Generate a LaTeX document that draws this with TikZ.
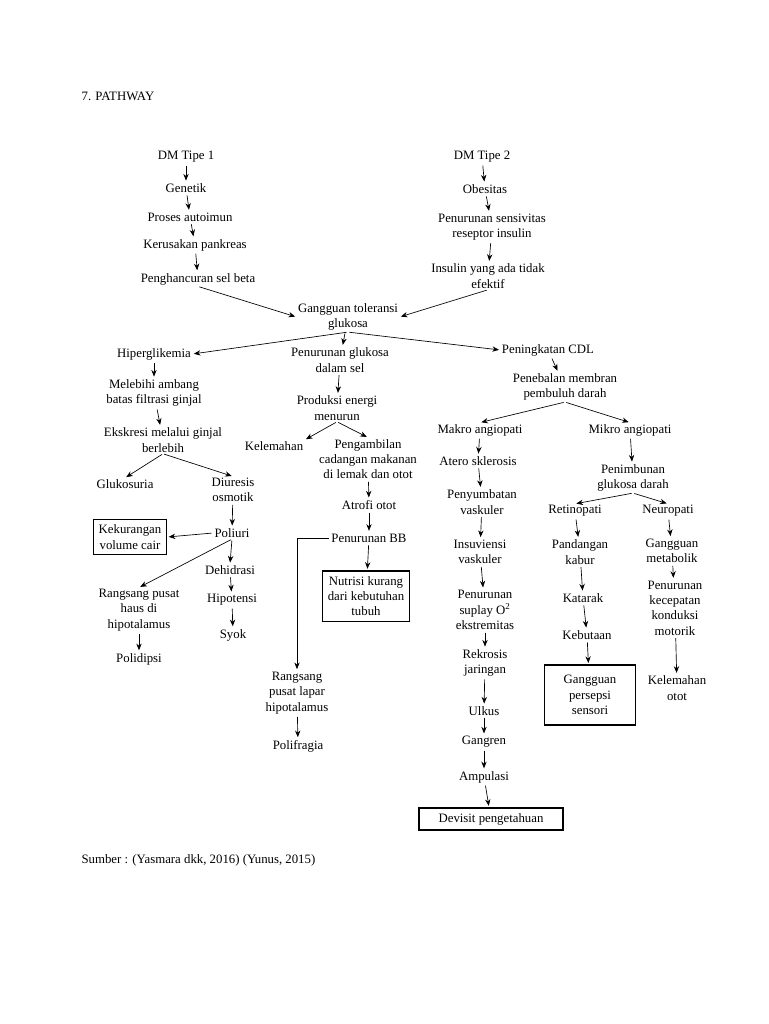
\documentclass[tikz,border=0pt]{standalone}
\usepackage{fontspec}
\setmainfont{Liberation Serif}
\usetikzlibrary{arrows.meta}
\begin{document}
\begin{tikzpicture}[x=0.75pt,y=-0.75pt,
  every node/.style={font=\fontsize{9.6}{11.5}\selectfont,align=center,inner sep=1pt},
  box/.style={draw,line width=1pt,inner sep=4pt},
  ar/.style={-{Stealth[length=5pt,width=4pt]},line width=0.5pt,shorten >=1pt,shorten <=1pt}]
\useasboundingbox (0,0) rectangle (768,1024);
\node[anchor=west] (title) at (80,96) {7. PATHWAY};
\node (d1) at (186,157) {DM Tipe 1};
\node (gen) at (186,188) {Genetik};
\node (pa) at (190,217) {Proses autoimun};
\node (kp) at (195,245) {Kerusakan pankreas};
\node (ps) at (198,279) {Penghancuran sel beta};
\node (d2) at (482,157) {DM Tipe 2};
\node (ob) at (485,189) {Obesitas};
\node (pr) at (492,227) {Penurunan sensivitas\\reseptor insulin};
\node (ie) at (488,276) {Insulin yang ada tidak\\efektif};
\node (gt) at (348,317) {Gangguan toleransi\\glukosa};
\node (hg) at (154,354) {Hiperglikemia};
\node (pg) at (340,360) {Penurunan glukosa\\dalam sel};
\node (cdl) at (548,350) {Peningkatan CDL};
\node (mab) at (154,393) {Melebihi ambang\\batas filtrasi ginjal};
\node (pe) at (337,408) {Produksi energi\\menurun};
\node (pmb) at (565,387) {Penebalan membran\\pembuluh darah};
\node (ek) at (163,440) {Ekskresi melalui ginjal\\berlebih};
\node (kl) at (274,446) {Kelemahan};
\node (pcm) at (368,459) {Pengambilan\\cadangan makanan\\di lemak dan otot};
\node (mak) at (480,430) {Makro angiopati};
\node (mik) at (630,430) {Mikro angiopati};
\node (gl) at (125,484) {Glukosuria};
\node (dio) at (233,490) {Diuresis\\osmotik};
\node (at) at (478,461) {Atero sklerosis};
\node (pgd) at (633,478) {Penimbunan\\glukosa darah};
\node[box] (kvc) at (130,537) {Kekurangan\\volume cair};
\node (pol) at (232,533) {Poliuri};
\node (ao) at (369,505) {Atrofi otot};
\node (pv) at (482,502) {Penyumbatan\\vaskuler};
\node (ret) at (575,511) {Retinopati};
\node (neu) at (668,511) {Neuropati};
\node (pbb) at (369,538) {Penurunan BB};
\node (iv) at (480,552) {Insuviensi\\vaskuler};
\node (pk) at (580,552) {Pandangan\\kabur};
\node (gm) at (672,551) {Gangguan\\metabolik};
\node (rh) at (139,610) {Rangsang pusat\\haus di\\hipotalamus};
\node (deh) at (230,570) {Dehidrasi};
\node (hip) at (232,600) {Hipotensi};
\node (syk) at (233,635) {Syok};
\node[box] (nk) at (366,596) {Nutrisi kurang\\dari kebutuhan\\tubuh};
\node (so) at (485,610) {Penurunan\\suplay O\textsuperscript{2}\\ekstremitas};
\node (kat) at (583,598) {Katarak};
\node (pkk) at (675,608) {Penurunan\\kecepatan\\konduksi\\motorik};
\node (pld) at (139,659) {Polidipsi};
\node (keb) at (587,635) {Kebutaan};
\node (rj) at (485,663) {Rekrosis\\jaringan};
\node[box,minimum width=68pt,minimum height=45pt] (gps) at (590,695) {Gangguan\\persepsi\\sensori};
\node (ko) at (677,688) {Kelemahan\\otot};
\node (rl) at (297,693) {Rangsang\\pusat lapar\\hipotalamus};
\node (ul) at (484,711) {Ulkus};
\node (gg) at (484,742) {Gangren};
\node (pf) at (298,746) {Polifragia};
\node (amp) at (484,777) {Ampulasi};
\node[box,minimum width=108pt] (dp) at (491,819) {Devisit pengetahuan};
\node[anchor=west] (src) at (80,860) {Sumber : (Yasmara dkk, 2016) (Yunus, 2015)};
% chains
\foreach \a/\b in {d1/gen,gen/pa,pa/kp,kp/ps,d2/ob,ob/pr,pr/ie,gt/pg,hg/mab,mab/ek,pg/pe,cdl/pmb,pcm/ao,ao/pbb,pbb/nk,
  mak/at,at/pv,pv/iv,iv/so,so/rj,rj/ul,ul/gg,gg/amp,amp/dp,mik/pgd,ret/pk,pk/kat,kat/keb,keb/gps,neu/gm,gm/pkk,pkk/ko,
  dio/pol,deh/hip,hip/syk,rh/pld,rl/pf}
  \draw[ar] (\a) -- (\b);
\draw[ar] (ps.south) -- (gt.west);
\draw[ar] (ie.south) -- (gt.east);
\draw[ar] (gt.south) -- (hg.east);
\draw[ar] (gt.south) -- (cdl.west);
\draw[ar] (pe.south) -- (kl.north east);
\draw[ar] (pe.south) -- (pcm.north);
\draw[ar] (pmb.south) -- (mak.north);
\draw[ar] (pmb.south) -- (mik.north);
\draw[ar] (ek.south) -- (gl.north);
\draw[ar] (ek.south) -- (dio.north);
\draw[ar] (pgd.south) -- (ret.north);
\draw[ar] (pgd.south) -- (neu.north);
\draw[ar] (pol.west) -- (kvc.east);
\draw[ar] (pol.south) -- (rh.north);
\draw[ar] (pol.south) -- (deh.north);
\draw[ar] (pbb.west) -| (rl.north);
\end{tikzpicture}
\end{document}
